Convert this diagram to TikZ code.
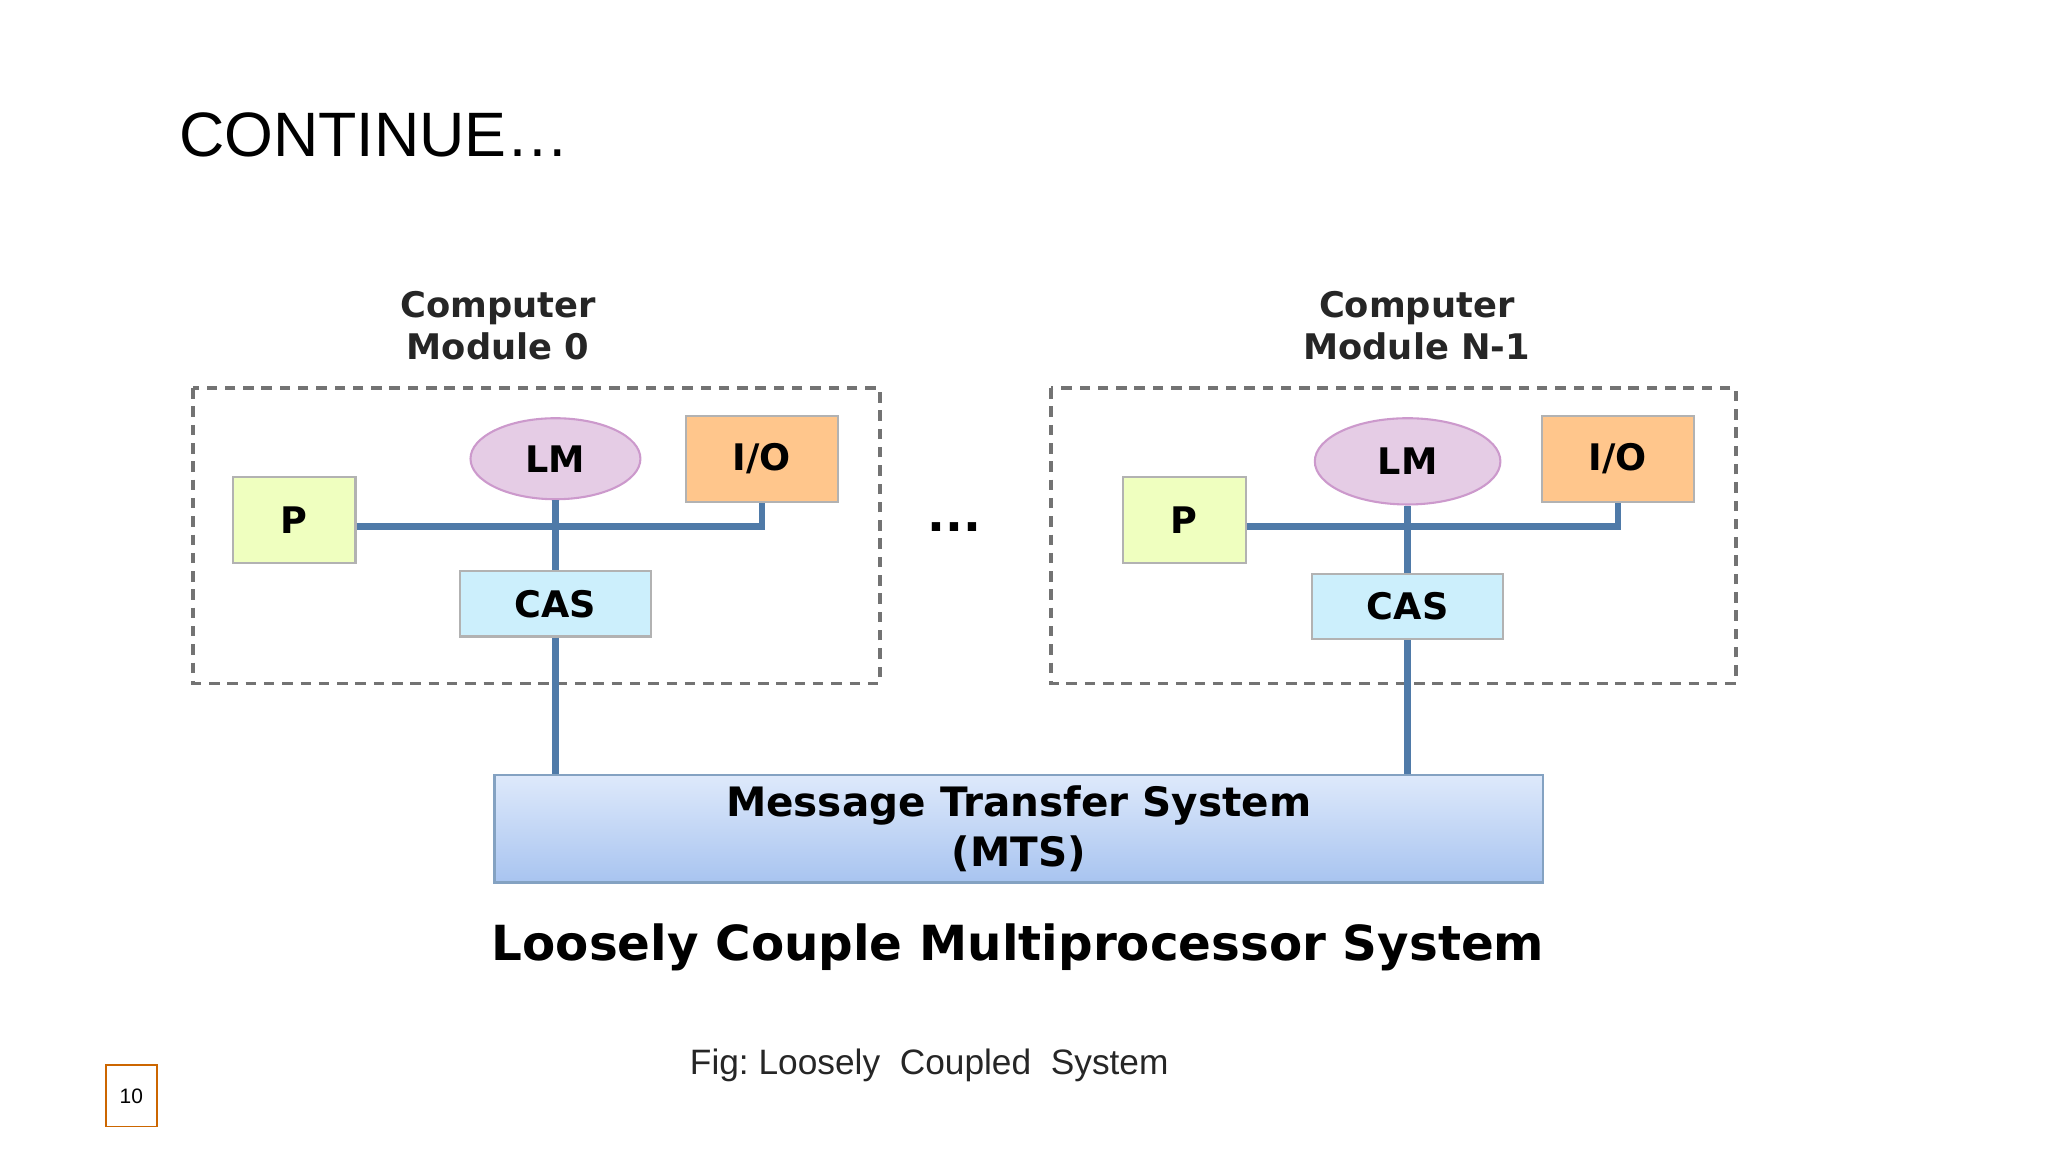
\documentclass[tikz,border=0pt]{standalone}
\usetikzlibrary{shapes.geometric}
\usepackage{fontspec}
\setmainfont{Liberation Sans}
\newfontfamily\dfont{DejaVu Sans}
\definecolor{busc}{RGB}{79,122,168}
\definecolor{mtstop}{RGB}{222,233,251}
\definecolor{mtsbot}{RGB}{168,196,240}
\begin{document}
\begin{tikzpicture}[x=0.5pt,y=-0.5pt,
  mod/.style={draw=black!55,line width=1.5pt,dash pattern=on 4pt off 3pt},
  blk/.style={draw=black!30,line width=0.8pt,font=\dfont\bfseries\fontsize{14}{17}\selectfont,inner sep=0pt},
  bus/.style={draw=busc,line width=2.6pt},
  lbl/.style={font=\dfont\bfseries\fontsize{13.5}{16}\selectfont,align=center,text=black!85}]
\useasboundingbox (0,0) rectangle (1567,881);
\node[anchor=base west,font=\fontsize{24}{26}\selectfont] (title) at (130,120) {CONTINUE\ldots};
% module 0
\draw[mod] (148,297) rectangle (673,523);
\node[lbl] (l0) at (381,249) {Computer\\Module 0};
\node[blk,fill=lime!25,minimum width=47pt,minimum height=33pt] (p0) at (225,398) {P};
\node[blk,ellipse,fill=violet!20,draw=violet!40,minimum width=65pt,minimum height=31pt] (lm0) at (425,351) {LM};
\node[blk,fill=orange!45,minimum width=58pt,minimum height=33pt] (io0) at (583,351) {I/O};
\node[blk,fill=cyan!20,minimum width=73pt,minimum height=25pt] (cas0) at (425,462) {CAS};
% module N-1
\draw[mod] (804,297) rectangle (1328,523);
\node[lbl] (l1) at (1084,249) {Computer\\Module N-1};
\node[blk,fill=lime!25,minimum width=47pt,minimum height=33pt] (p1) at (906,398) {P};
\node[blk,ellipse,fill=violet!20,draw=violet!40,minimum width=71pt,minimum height=33pt] (lm1) at (1077,353) {LM};
\node[blk,fill=orange!45,minimum width=58pt,minimum height=33pt] (io1) at (1238,351) {I/O};
\node[blk,fill=cyan!20,minimum width=73pt,minimum height=25pt] (cas1) at (1077,464) {CAS};
\node[font=\dfont\bfseries\fontsize{18}{18}\selectfont] (dots) at (730,403) {...};
% MTS
\node[draw=busc!70,line width=1pt,top color=mtstop,bottom color=mtsbot,minimum width=401pt,minimum height=41pt,inner sep=0pt,
  font=\dfont\bfseries\fontsize{15.5}{19}\selectfont,align=center] (mts) at (779.5,634) {Message Transfer System\\(MTS)};
% buses
\coordinate (h0) at (425,403);
\draw[bus] (p0.east |- h0) -- (io0.south |- h0) -- (io0.south);
\draw[bus] (lm0.south) -- (cas0.north);
\draw[bus] (cas0.south) -- (cas0.south |- mts.north);
\coordinate (h1) at (1077,403);
\draw[bus] (p1.east |- h1) -- (io1.south |- h1) -- (io1.south);
\draw[bus] (lm1.south) -- (cas1.north);
\draw[bus] (cas1.south) -- (cas1.south |- mts.north);
\node[font=\dfont\bfseries\fontsize{18.5}{20}\selectfont] (cap) at (779,725) {Loosely Couple Multiprocessor System};
\node[font=\fontsize{13.5}{15}\selectfont,text=black!85] (fig) at (711,815) {Fig:\ Loosely\ \ Coupled\ \ System};
\node[draw=orange!80!black,line width=0.6pt,minimum width=19.5pt,minimum height=23.5pt,inner sep=0pt,font=\fontsize{8}{9}\selectfont] (pg) at (100.5,838.5) {10};
\end{tikzpicture}
\end{document}
